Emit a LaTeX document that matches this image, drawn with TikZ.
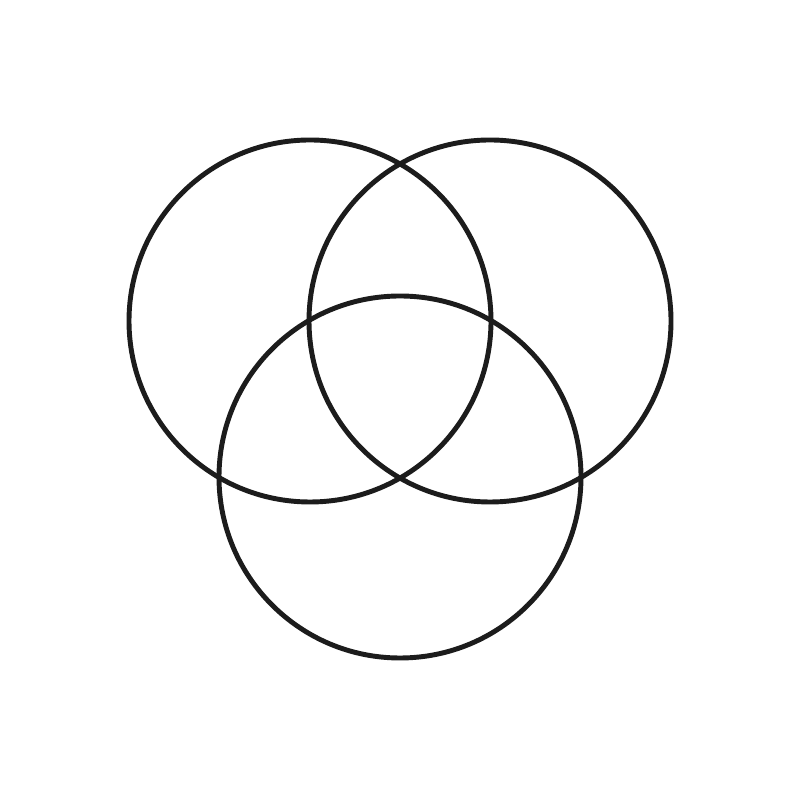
\documentclass[tikz,border=0pt]{standalone}
\usepackage{tikz}
\definecolor{ringgray}{HTML}{1C1C1C}

\begin{document}
\begin{tikzpicture}
  \useasboundingbox [fill=white] (0,0) rectangle (8,8);
  \tikzset{ring/.style={draw=ringgray,line width=1.4pt}}

  \draw [ring] (3.10,4.79) circle (1.81);
  \draw [ring] (4.90,4.79) circle (1.81);
  \draw [ring] (4.00,3.23) circle (1.81);
\end{tikzpicture}
\end{document}
